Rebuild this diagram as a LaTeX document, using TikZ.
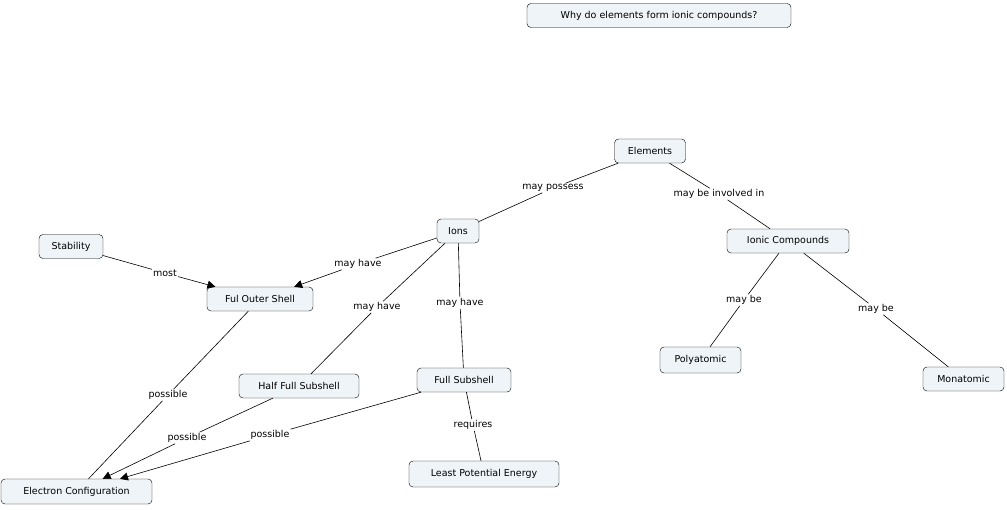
\documentclass[tikz,border=0pt]{standalone}
\usepackage{fontspec}
\setmainfont{DejaVu Sans}
\usetikzlibrary{arrows.meta}
\definecolor{boxfill}{HTML}{EEF4F7}
\begin{document}
\begin{tikzpicture}[x=1pt,y=-1pt,
  box/.style={draw=black,fill=boxfill,rounded corners=4pt,font=\fontsize{9.5}{11}\selectfont,inner sep=0pt,minimum height=24pt},
  lab/.style={fill=white,font=\fontsize{9.5}{11}\selectfont,inner sep=1pt},
  ln/.style={draw=black,line width=0.6pt},
  arr/.style={ln,-{Triangle[length=8pt,width=8pt]}}]
\useasboundingbox (0,0) rectangle (1007,509);
\node[box,minimum width=264pt] (q) at (659,15.5) {Why do elements form ionic compounds?};
\node[box,minimum width=71pt] (el) at (650,151) {Elements};
\node[box,minimum width=42pt] (ions) at (458,231) {Ions};
\node[box,minimum width=122pt] (ic) at (788,241) {Ionic Compounds};
\node[box,minimum width=64pt] (st) at (71,246.5) {Stability};
\node[box,minimum width=106pt] (fos) at (260,299) {Ful Outer Shell};
\node[box,minimum width=120pt] (hfs) at (299,386) {Half Full Subshell};
\node[box,minimum width=94pt] (fs) at (464,380) {Full Subshell};
\node[box,minimum width=81pt,minimum height=26pt] (poly) at (700.5,360) {Polyatomic};
\node[box,minimum width=81pt] (mon) at (963.5,379) {Monatomic};
\node[box,minimum width=150pt,minimum height=26pt] (lpe) at (484,474) {Least Potential Energy};
\node[box,minimum width=151pt,minimum height=25pt] (ec) at (76.5,491.5) {Electron Configuration};

\node[lab] (l1) at (553,188) {may possess};
\node[lab] (l2) at (719,194) {may be involved in};
\node[lab] (l3) at (358,264) {may have};
\node[lab] (l4) at (377,307) {may have};
\node[lab] (l5) at (460,303) {may have};
\node[lab] (l6) at (165,273) {most};
\node[lab] (l7) at (744,300) {may be};
\node[lab] (l8) at (876,309) {may be};
\node[lab] (l9) at (168,395) {possible};
\node[lab] (l10) at (187,438) {possible};
\node[lab] (l11) at (270,435) {possible};
\node[lab] (l12) at (473,425) {requires};

\draw[ln] (el) -- (l1); \draw[ln] (l1) -- (ions);
\draw[ln] (el) -- (l2); \draw[ln] (l2) -- (ic);
\draw[ln] (ions) -- (l3); \draw[arr] (l3) -- (fos);
\draw[ln] (ions) -- (l4); \draw[ln] (l4) -- (hfs);
\draw[ln] (ions) -- (l5); \draw[ln] (l5) -- (fs);
\draw[ln] (st) -- (l6); \draw[arr] (l6) -- (fos);
\draw[ln] (ic) -- (l7); \draw[ln] (l7) -- (poly);
\draw[ln] (ic) -- (l8); \draw[ln] (l8) -- (mon);
\draw[ln] (fos) -- (l9); \draw[ln] (l9) -- (ec);
\draw[ln] (hfs) -- (l10); \draw[arr] (l10) -- (ec);
\draw[ln] (fs) -- (l11); \draw[arr] (l11) -- (ec);
\draw[ln] (fs) -- (l12); \draw[ln] (l12) -- (lpe);
\end{tikzpicture}
\end{document}
